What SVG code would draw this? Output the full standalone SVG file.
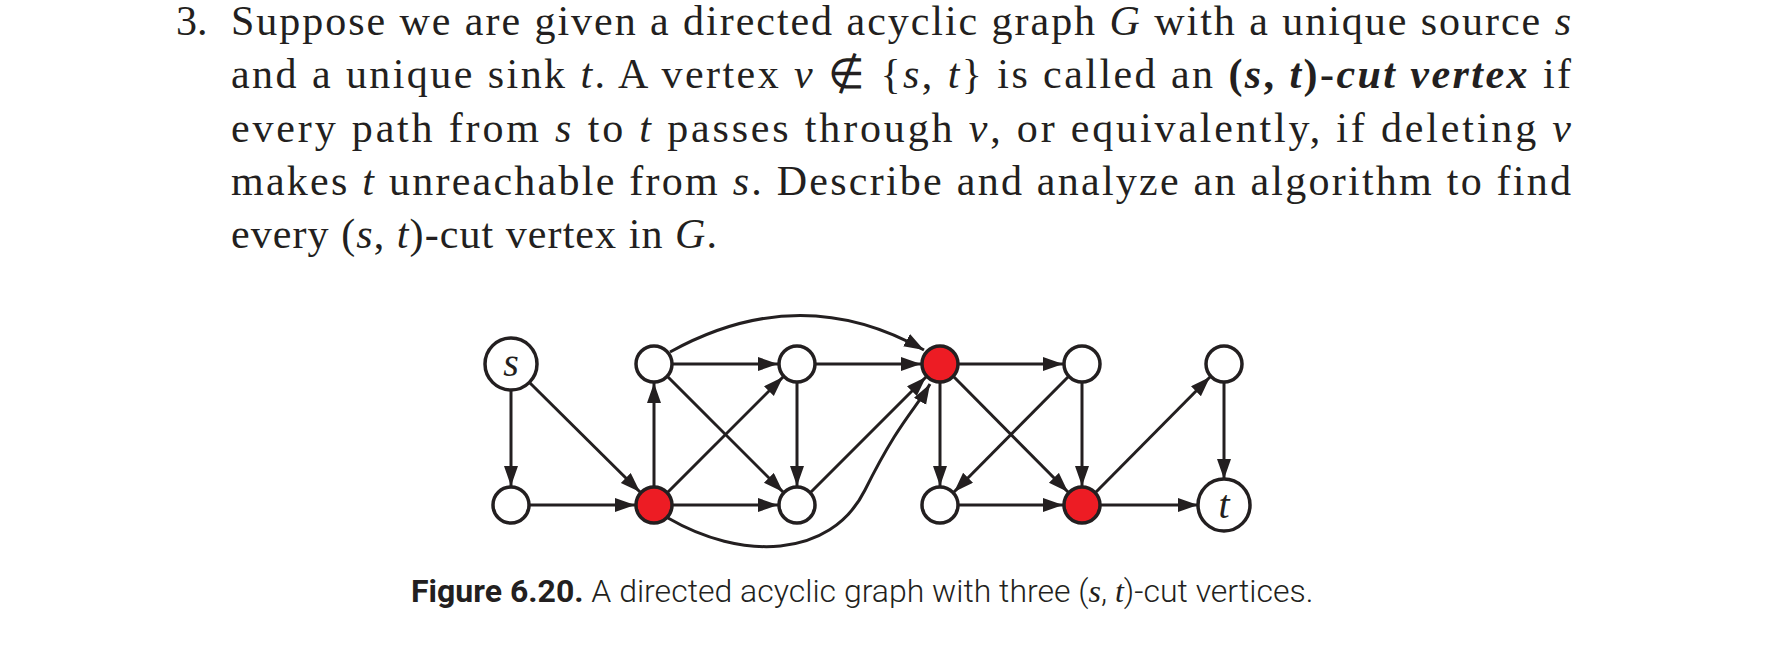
<svg xmlns="http://www.w3.org/2000/svg" width="1777" height="661" viewBox="0 0 1777 661">
<style>
.p{font-family:"Liberation Serif",serif;font-size:42px;fill:#231f20}
.i{font-style:italic}
.cap{font-family:Roboto,sans-serif;font-size:32px;font-weight:300;fill:#231f20}
.n{stroke:#231f20;stroke-width:3.5;fill:#fff}
.r{fill:#ed1c24}
.e{stroke:#231f20;stroke-width:3;fill:none;marker-end:url(#a)}
.lbl{font-family:"Liberation Serif",serif;font-style:italic;font-size:40px;fill:#231f20;text-anchor:middle}
</style>
<defs><marker id="a" markerUnits="userSpaceOnUse" markerWidth="22" markerHeight="16" refX="20" refY="7" orient="auto"><path d="M0,0L20,7L0,14Z" fill="#231f20"/></marker></defs>
<rect width="1777" height="661" fill="#fff"/>
<text class="p" x="176" y="35">3.</text>
<text class="p" x="231" y="35" textLength="1340" lengthAdjust="spacing">Suppose we are given a directed acyclic graph <tspan class="i">G</tspan> with a unique source <tspan class="i">s</tspan></text>
<text class="p" x="231" y="88" textLength="1340" lengthAdjust="spacing">and a unique sink <tspan class="i">t</tspan>.  A vertex <tspan class="i">v</tspan> ∉ {<tspan class="i">s</tspan>, <tspan class="i">t</tspan>} is called an <tspan font-weight="bold">(<tspan class="i">s</tspan>, <tspan class="i">t</tspan>)-<tspan class="i">cut vertex</tspan></tspan> if</text>
<text class="p" x="231" y="142" textLength="1340" lengthAdjust="spacing">every path from <tspan class="i">s</tspan> to <tspan class="i">t</tspan> passes through <tspan class="i">v</tspan>, or equivalently, if deleting <tspan class="i">v</tspan></text>
<text class="p" x="231" y="195" textLength="1340" lengthAdjust="spacing">makes <tspan class="i">t</tspan> unreachable from <tspan class="i">s</tspan>.  Describe and analyze an algorithm to find</text>
<text class="p" x="231" y="248" textLength="486" lengthAdjust="spacing">every (<tspan class="i">s</tspan>, <tspan class="i">t</tspan>)-cut vertex in <tspan class="i">G</tspan>.</text>
<g id="edges">
<path class="e" d="M511,391L511,486"/>
<path class="e" d="M530,383L640,492"/>
<path class="e" d="M530,505L635,505"/>
<path class="e" d="M654,486L654,383"/>
<path class="e" d="M668,492L783,377"/>
<path class="e" d="M673,505L778,505"/>
<path class="e" d="M673,364L778,364"/>
<path class="e" d="M668,377L783,492"/>
<path class="e" d="M797,383L797,486"/>
<path class="e" d="M816,364L921,364"/>
<path class="e" d="M811,492L926,377"/>
<path class="e" d="M670,352Q800,280 924,350"/>
<path class="e" d="M668,518C740,560 830,560 865,490S915,410 930,384"/>
<path class="e" d="M959,364L1063,364"/>
<path class="e" d="M940,383L940,486"/>
<path class="e" d="M954,377L1068,492"/>
<path class="e" d="M1068,377L954,492"/>
<path class="e" d="M1082,383L1082,486"/>
<path class="e" d="M959,505L1063,505"/>
<path class="e" d="M1096,492L1210,377"/>
<path class="e" d="M1101,505L1198,505"/>
<path class="e" d="M1224,383L1224,479"/>
</g>
<g id="s"><circle class="n" cx="511" cy="364" r="26"/><text class="lbl" x="511" y="376">s</text></g>
<g id="a1"><circle class="n" cx="654" cy="364" r="18"/></g>
<g id="a2"><circle class="n" cx="797" cy="364" r="18"/></g>
<g id="a3"><circle class="n r" cx="940" cy="364" r="18"/></g>
<g id="a4"><circle class="n" cx="1082" cy="364" r="18"/></g>
<g id="a5"><circle class="n" cx="1224" cy="364" r="18"/></g>
<g id="b1"><circle class="n" cx="511" cy="505" r="18"/></g>
<g id="b2"><circle class="n r" cx="654" cy="505" r="18"/></g>
<g id="b3"><circle class="n" cx="797" cy="505" r="18"/></g>
<g id="b4"><circle class="n" cx="940" cy="505" r="18"/></g>
<g id="b5"><circle class="n r" cx="1082" cy="505" r="18"/></g>
<g id="t"><circle class="n" cx="1224" cy="505" r="26"/><text class="lbl" x="1224" y="518">t</text></g>
<text class="cap" x="411" y="602"><tspan font-weight="bold">Figure 6.20.</tspan> A directed acyclic graph with three (<tspan font-family="Liberation Serif" font-style="italic">s</tspan>, <tspan font-family="Liberation Serif" font-style="italic">t</tspan>)-cut vertices.</text>
</svg>
